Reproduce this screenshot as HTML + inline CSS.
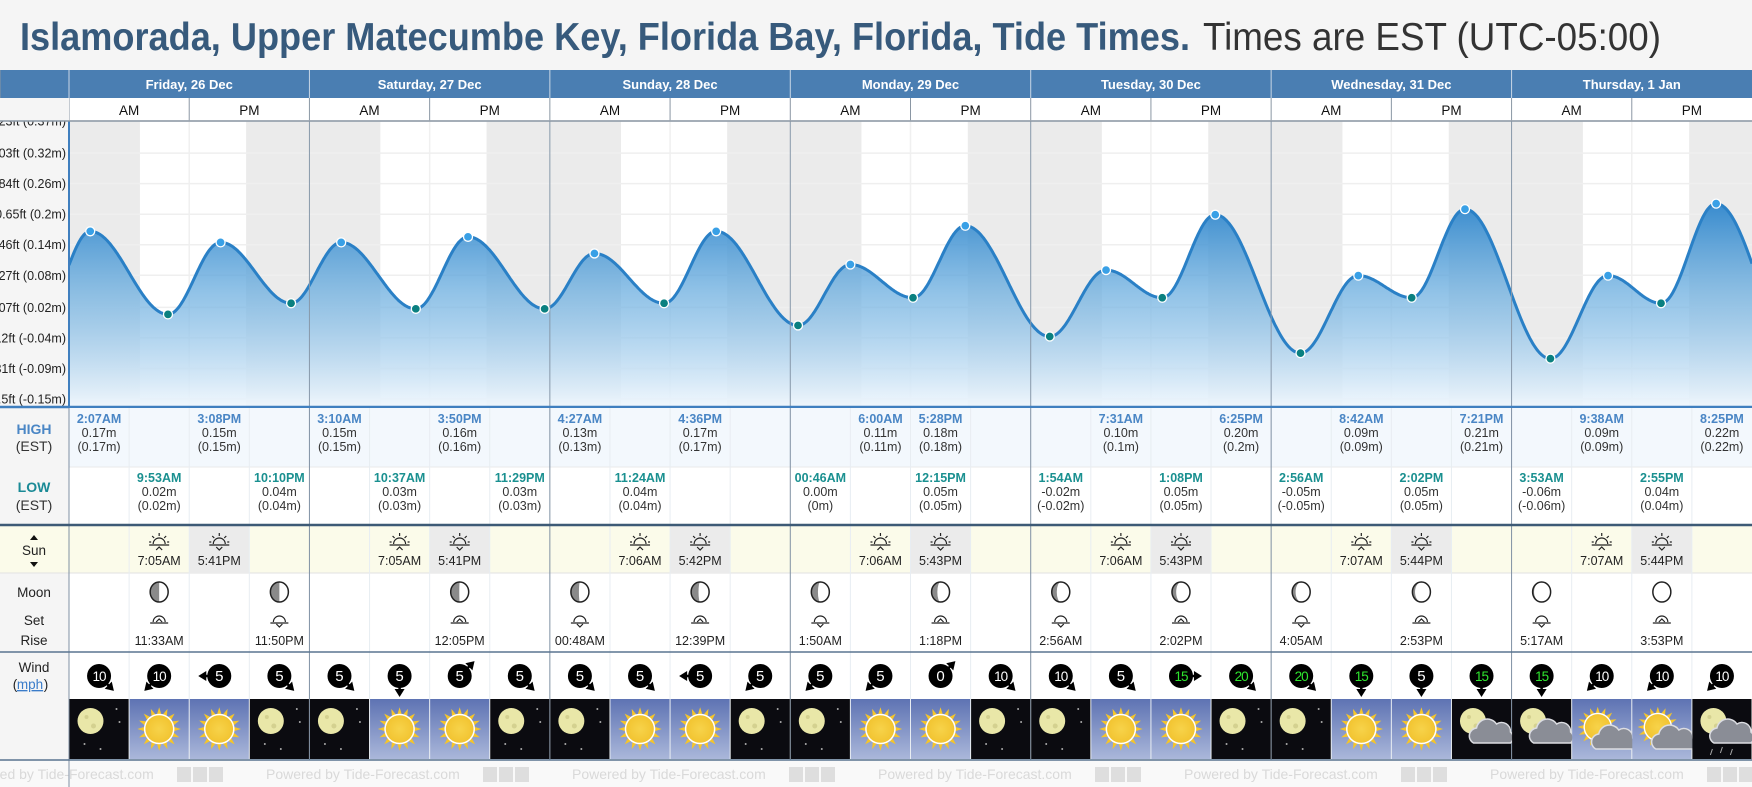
<!DOCTYPE html>
<html><head><meta charset="utf-8"><style>
html,body{margin:0;padding:0;background:#f5f5f5;}
svg{display:block;font-family:"Liberation Sans",sans-serif;}
</style></head><body>
<svg id="c" width="1752" height="787" viewBox="0 0 1752 787" xmlns="http://www.w3.org/2000/svg">
<defs>
<linearGradient id="tg" x1="0" y1="0" x2="0" y2="1"><stop offset="0" stop-color="#2f86cc" stop-opacity="0.95"/><stop offset="0.45" stop-color="#6fb0e0" stop-opacity="0.75"/><stop offset="1" stop-color="#eef6fd" stop-opacity="0.9"/></linearGradient>
<linearGradient id="dayg" x1="0" y1="0" x2="0" y2="1"><stop offset="0" stop-color="#5e73b3"/><stop offset="1" stop-color="#aab7da"/></linearGradient>
<radialGradient id="sung" cx="0.5" cy="0.5" r="0.5"><stop offset="0" stop-color="#f7d34a"/><stop offset="1" stop-color="#f2c431"/></radialGradient>
</defs>
<rect x="0" y="0" width="1752" height="787" fill="#f5f5f5"/>
<text x="20" y="50" font-size="39" font-weight="bold" fill="#375a7c" textLength="1170" lengthAdjust="spacingAndGlyphs">Islamorada, Upper Matecumbe Key, Florida Bay, Florida, Tide Times.</text>
<text x="1203" y="50" font-size="39" fill="#333" textLength="458" lengthAdjust="spacingAndGlyphs">Times are EST (UTC-05:00)</text>
<g id="g"></g>
</svg>
<script>
// ---- data ----
const days = ["Friday, 26 Dec","Saturday, 27 Dec","Sunday, 28 Dec","Monday, 29 Dec","Tuesday, 30 Dec","Wednesday, 31 Dec","Thursday, 1 Jan"];
const eventHours = [-2.5, 2.12,9.88,15.13,22.17, 27.17,34.62,39.83,47.48, 52.45,59.4,64.6, 72.77,78.0,84.25,89.47, 97.9,103.52,109.13,114.42, 122.93,128.7,134.03,139.35, 147.88,153.63,158.92,164.42, 172.8];
const eventHeights = [0.03, 0.17,0.02,0.15,0.04, 0.15,0.03,0.16,0.03, 0.13,0.04,0.17, 0.00,0.11,0.05,0.18, -0.02,0.10,0.05,0.20, -0.05,0.09,0.05,0.21, -0.06,0.09,0.04,0.22, -0.06];
const eventLabels = ["", "2:07AM","9:53AM","3:08PM","10:10PM", "3:10AM","10:37AM","3:50PM","11:29PM", "4:27AM","11:24AM","4:36PM", "00:46AM","6:00AM","12:15PM","5:28PM", "1:54AM","7:31AM","1:08PM","6:25PM", "2:56AM","8:42AM","2:02PM","7:21PM", "3:53AM","9:38AM","2:55PM","8:25PM", ""];
const eventParen = ["", "0.17m","0.02m","0.15m","0.04m", "0.15m","0.03m","0.16m","0.03m", "0.13m","0.04m","0.17m", "0m","0.11m","0.05m","0.18m", "-0.02m","0.1m","0.05m","0.2m", "-0.05m","0.09m","0.05m","0.21m", "-0.06m","0.09m","0.04m","0.22m", ""];
const yTickFt = [1.23,1.03,0.84,0.65,0.46,0.27,0.07,-0.12,-0.31,-0.5];
const yTickLabels = ["1.23ft (0.37m)","1.03ft (0.32m)","0.84ft (0.26m)","0.65ft (0.2m)","0.46ft (0.14m)","0.27ft (0.08m)","0.07ft (0.02m)","-0.12ft (-0.04m)","-0.31ft (-0.09m)","-0.5ft (-0.15m)"];
const sunrise = ["7:05AM","7:05AM","7:06AM","7:06AM","7:06AM","7:07AM","7:07AM"];
const sunset = ["5:41PM","5:41PM","5:42PM","5:43PM","5:43PM","5:44PM","5:44PM"];
const sunriseH = [7.08,7.08,7.1,7.1,7.1,7.12,7.12];
const sunsetH = [17.68,17.68,17.7,17.72,17.72,17.73,17.73];
const moonHours = [11.55,23.83, 36.08, 48.8,60.65, 73.83,85.3, 98.93,110.03, 124.08,134.88, 149.28,159.88];
const moonLabels = ["11:33AM","11:50PM","12:05PM","00:48AM","12:39PM","1:50AM","1:18PM","2:56AM","2:02PM","4:05AM","2:53PM","5:17AM","3:53PM"];
const moonIsRise = [1,0,1,0,1,0,1,0,1,0,1,0,1];
const moonPhase = [0.5,0.5,0.52,0.55,0.58,0.62,0.66,0.7,0.74,0.78,0.82,0.88,0.92];
const windSpeed = [10,10,5,5, 5,5,5,5, 5,5,5,5, 5,5,0,10, 10,5,15,20, 20,15,5,15, 15,10,10,10];
const windDir = [315,45,90,315, 315,0,225,315, 315,315,90,45, 45,45,225,315, 315,315,270,315, 315,0,0,0, 0,45,45,45];
const weather = ["n","d","d","n","n","d","d","n","n","d","d","n","n","d","d","n","n","d","d","n","n","d","d","nc","nc","dc","dc","r"];

// ---- layout ----
const NS="http://www.w3.org/2000/svg";
const G=document.getElementById('g');
const L=69, DW=(1752-L)/7, Q=DW/4;
const CT=121, CB=406;
function X(h){return L+h/24*DW;}
function Y(m){return 231.3+(0.17-m)*553.7;}
function YF(ft){return 399-(ft+0.5)*160.7;}
function el(tag,attrs,parent,text){const e=document.createElementNS(NS,tag);for(const k in attrs)e.setAttribute(k,attrs[k]);if(text!==undefined)e.textContent=text;(parent||G).appendChild(e);return e;}

let e;
e=el('rect',{x:0,y:70,width:1752,height:28,fill:'#4a7eb2'});


el('rect',{x:0,y:98,width:1752,height:23,fill:'#fff'});
el('rect',{x:0,y:98,width:L,height:23,fill:'#f5f5f5'});
el('line',{x1:0,y1:70,x2:0,y2:121,stroke:'#8a96a3'});
for(let d=0;d<7;d++){
  const x0=L+d*DW;
  e=el('text',{x:x0+DW/2,y:89,'text-anchor':'middle','font-size':13,'font-weight':'bold',fill:'#fff'},G,days[d]);
  
  
  el('line',{x1:x0,y1:70,x2:x0,y2:98,stroke:'#c9d7e6'});
  el('line',{x1:x0,y1:98,x2:x0,y2:121,stroke:'#8a96a3'});
  el('line',{x1:x0+DW/2,y1:98,x2:x0+DW/2,y2:121,stroke:'#8a96a3'});
  e=el('text',{x:x0+DW/4,y:115,'text-anchor':'middle','font-size':13.5,fill:'#111'},G,'AM');
  
  
  e=el('text',{x:x0+DW*3/4,y:115,'text-anchor':'middle','font-size':13.5,fill:'#111'},G,'PM');
  
  
}

el('rect',{x:L,y:CT,width:1752-L,height:CB-CT,fill:'#fff'});
for(let d=0;d<7;d++){
  const x0=L+d*DW;
  e=el('rect',{x:x0,y:CT,width:X(sunriseH[d])-X(0),height:CB-CT,fill:'#ebebeb'});
  
  
  e=el('rect',{x:X(d*24+sunsetH[d]),y:CT,width:X(24)-X(sunsetH[d]),height:CB-CT,fill:'#ebebeb'});
  
  
  el('line',{x1:X(d*24+12),y1:CT,x2:X(d*24+12),y2:CB,stroke:'#f0f0f0','stroke-width':1.5});
}
for(let i=0;i<yTickFt.length;i++){
  const y=YF(yTickFt[i]);
  el('line',{x1:L,y1:y,x2:1752,y2:y,stroke:'#efefef','stroke-width':1.5});
}
function tideAt(h){
  for(let i=0;i<eventHours.length-1;i++){
    const a=eventHours[i],b=eventHours[i+1];
    if(h>=a&&h<=b){const t=(h-a)/(b-a);const ha=eventHeights[i],hb=eventHeights[i+1];return ha+(hb-ha)*(1-Math.cos(Math.PI*t))/2;}
  }
  return eventHeights[eventHeights.length-1];
}
let pts=[];
for(let h=0;h<=168;h+=0.1){pts.push(X(h).toFixed(1)+','+Y(tideAt(h)).toFixed(1));}
e=el('path',{d:'M'+X(0)+','+CB+' L'+pts.join(' L')+' L'+X(168)+','+CB+' Z',fill:'url(#tg)'});


e=el('path',{d:'M'+pts.join(' L'),fill:'none',stroke:'#2a80c6','stroke-width':3});


for(let d=1;d<7;d++){el('line',{x1:L+d*DW,y1:CT,x2:L+d*DW,y2:CB,stroke:'#8798aa','stroke-width':1});}
el('line',{x1:L,y1:CT,x2:L,y2:CB,stroke:'#3f7fbf','stroke-width':2});
for(let i=0;i<eventHours.length;i++){
  if(eventHours[i]<0||eventHours[i]>168)continue;
  const hi=(i>0&&eventHeights[i]>eventHeights[i-1]);
  e=el('circle',{cx:X(eventHours[i]),cy:Y(eventHeights[i]),r:4.5,fill:hi?'#39a0e6':'#0a8080',stroke:'#fff','stroke-width':1.3});
  
  
}
el('rect',{x:0,y:CT,width:L-1,height:CB-CT,fill:'#f5f5f5'});
for(let i=0;i<yTickFt.length;i++){
  e=el('text',{x:L-3,y:YF(yTickFt[i])+4.5,'text-anchor':'end','font-size':12.5,fill:'#222'},G,yTickLabels[i]);
  
  
}
el('rect',{x:0,y:CT-14,width:L,height:14,fill:'#f5f5f5'});
el('rect',{x:0,y:98,width:L,height:23,fill:'#f5f5f5'});
el('line',{x1:0,y1:121,x2:1752,y2:121,stroke:'#8a96a3','stroke-width':1.5});
el('line',{x1:0,y1:CB+1,x2:1752,y2:CB+1,stroke:'#3f7fbf','stroke-width':2.5});

el('rect',{x:L,y:408,width:1752-L,height:59,fill:'#f3f8fd'});
el('rect',{x:L,y:467,width:1752-L,height:58,fill:'#fff'});
el('rect',{x:0,y:526,width:1752,height:47,fill:'#fbfbea'});
el('rect',{x:L,y:573,width:1752-L,height:79,fill:'#fff'});
el('rect',{x:L,y:652,width:1752-L,height:47,fill:'#fff'});
el('line',{x1:L,y1:467,x2:1752,y2:467,stroke:'#eaeaea'});
el('line',{x1:0,y1:573,x2:1752,y2:573,stroke:'#e2e2e2'});
for(let d=0;d<7;d++){
  const x0=L+d*DW;
  el('rect',{x:X(d*24+12),y:526,width:Q,height:47,fill:'#ebebeb'});
  for(let k=1;k<4;k++){el('line',{x1:x0+k*Q,y1:408,x2:x0+k*Q,y2:760,stroke:'#e8edf2'});}
  el('line',{x1:x0,y1:408,x2:x0,y2:760,stroke:'#7f90a3'});
}
el('line',{x1:L,y1:408,x2:L,y2:787,stroke:'#7f90a3'});
el('line',{x1:0,y1:525,x2:1752,y2:525,stroke:'#3d5a76','stroke-width':2.5});
el('line',{x1:0,y1:652,x2:1752,y2:652,stroke:'#5a7590','stroke-width':1.5});
el('line',{x1:0,y1:760,x2:1752,y2:760,stroke:'#5a7590','stroke-width':1.5});

function lbl(t,x,y,size,col,bold,name){e=el('text',{x:x,y:y,'text-anchor':'middle','font-size':size,fill:col,'font-weight':bold?'bold':'normal'},G,t);return e;}
lbl('HIGH',34,434,14,'#4a86c5',true,'high-row-label');
lbl('(EST)',34,451,14,'#333',false,'high-row-tz');
lbl('LOW',34,492,14,'#1a8a96',true,'low-row-label');
lbl('(EST)',34,510,14,'#333',false,'low-row-tz');
lbl('Sun',34,555,13.5,'#222',false,'sun-row-label');
el('path',{d:'M30,540 L34,535 L38,540 Z M30,562 L34,567 L38,562 Z',fill:'#111'});
lbl('Moon',34,597,13.5,'#222',false,'moon-row-label');
lbl('Set',34,625,13.5,'#222',false,'moonset-label');
lbl('Rise',34,645,13.5,'#222',false,'moonrise-label');
lbl('Wind',34,672,13.5,'#222',false,'wind-row-label');
lbl('(',15,689,13.5,'#222',false,'paren');
e=el('text',{x:30,y:689,'text-anchor':'middle','font-size':13.5,fill:'#3a7cc9','text-decoration':'underline'},G,'mph');


lbl(')',46,689,13.5,'#222',false,'paren');

for(let i=0;i<eventHours.length;i++){
  const h=eventHours[i]; if(h<0||h>168)continue;
  const hi=(i>0&&eventHeights[i]>eventHeights[i-1]);
  const qi=Math.floor(h/6); const cx=L+qi*Q+Q/2; const y0=hi?423:482;
  e=el('text',{x:cx,y:y0,'text-anchor':'middle','font-size':12.5,'font-weight':'bold',fill:hi?'#4a86c5':'#1a9090'},G,eventLabels[i]);
  
  
  e=el('text',{x:cx,y:y0+14,'text-anchor':'middle','font-size':12.5,fill:'#333'},G,eventHeights[i].toFixed(2)+'m');
  
  
  e=el('text',{x:cx,y:y0+28,'text-anchor':'middle','font-size':12.5,fill:'#333'},G,'('+eventParen[i]+')');
  
  
}
function sunIcon(cx,cy,down){
  const g=el('g',{stroke:'#222','stroke-width':1.2,fill:'none'});
  el('path',{d:`M${cx-6},${cy+3} A6,6 0 0 1 ${cx+6},${cy+3}`},g);
  el('line',{x1:cx-10,y1:cy+4,x2:cx+10,y2:cy+4},g);
  el('path',{d:`M${cx},${cy-8} v3 M${cx-7},${cy-5} l2,2 M${cx+7},${cy-5} l-2,2 M${cx-10},${cy+1} h2 M${cx+10},${cy+1} h-2`},g);
  el('path',{d:down?`M${cx-3},${cy+6} l3,3 l3,-3`:`M${cx-3},${cy+9} l3,-3 l3,3`},g);
  return g;
}
for(let d=0;d<7;d++){
  const x0=L+d*DW;
  let cx=x0+Q*1.5; e=sunIcon(cx,541,false);
  
  
  e=el('text',{x:cx,y:565,'text-anchor':'middle','font-size':12.5,fill:'#222'},G,sunrise[d]);
  
  
  cx=x0+Q*2.5; e=sunIcon(cx,541,true);
  
  
  e=el('text',{x:cx,y:565,'text-anchor':'middle','font-size':12.5,fill:'#222'},G,sunset[d]);
  
  
}
for(let i=0;i<moonHours.length;i++){
  const qi=Math.floor(moonHours[i]/6); const cx=L+qi*Q+Q/2;
  const g=el('g',{});
  
  
  el('ellipse',{cx:cx,cy:592,rx:9,ry:10,fill:'#fff'},g);
  const rx=Math.max(0.01,10*(2*moonPhase[i]-1));
  el('path',{d:`M${cx},582 A9,10 0 0 0 ${cx},602 A${rx.toFixed(2)},10 0 0 1 ${cx},582 Z`,fill:'#8a8a8a'},g);
  el('ellipse',{cx:cx,cy:592,rx:9,ry:10,fill:'none',stroke:'#222','stroke-width':1.5},g);
  const rg=el('g',{stroke:'#222','stroke-width':1.2,fill:'none'});
  
  
  el('path',{d:`M${cx-6},622 A6,6 0 0 1 ${cx+6},622`},rg);
  el('line',{x1:cx-9,y1:623,x2:cx+9,y2:623},rg);
  el('path',{d:moonIsRise[i]?`M${cx-3},622 l3,-3 l3,3`:`M${cx-3},624 l3,3 l3,-3`},rg);
  e=el('text',{x:cx,y:645,'text-anchor':'middle','font-size':12.5,fill:'#222'},G,moonLabels[i]);
  
  
}
for(let i=0;i<windSpeed.length;i++){
  const cx=L+i*Q+Q/2, cy=676;
  const g=el('g',{});
  
  
  const a=windDir[i]*Math.PI/180; const dx=-Math.sin(a), dy=Math.cos(a);
  const tx=cx+dx*18, ty=cy+dy*18;
  el('line',{x1:cx,y1:cy,x2:tx,y2:ty,stroke:'#000','stroke-width':2.5},g);
  const px=-dy, py=dx;
  el('path',{d:`M${tx+dx*3},${ty+dy*3} L${tx-dx*5+px*5},${ty-dy*5+py*5} L${tx-dx*5-px*5},${ty-dy*5-py*5} Z`,fill:'#000'},g);
  el('circle',{cx:cx,cy:cy,r:12,fill:'#000'},g);
  const sp=windSpeed[i];
  el('text',{x:cx,y:cy+5,'text-anchor':'middle','font-size':sp>=10?13.5:15,fill:sp>=15?'#2ee62e':'#fff','letter-spacing':sp>=10?-1:0},g,String(sp));
}
function sunShape(g,cx,cy,r){
  let d='';for(let k=0;k<16;k++){const a1=k*Math.PI/8, a2=a1+Math.PI/16, a3=a1-Math.PI/16;
    d+=`M${cx+Math.cos(a3)*r*0.9},${cy+Math.sin(a3)*r*0.9} L${cx+Math.cos(a1)*r*1.45},${cy+Math.sin(a1)*r*1.45} L${cx+Math.cos(a2)*r*0.9},${cy+Math.sin(a2)*r*0.9} Z `;}
  el('path',{d:d,fill:'#f5c52a'},g);
  el('circle',{cx:cx,cy:cy,r:r*1.02,fill:'#fff'},g);
  el('circle',{cx:cx,cy:cy,r:r*0.92,fill:'url(#sung)'},g);
}
function cloud(g,cx,cy,s){
  el('path',{d:`M${cx-18*s},${cy+10*s} a8,8 0 0 1 3,-15 a11,11 0 0 1 20,-4 a9,9 0 0 1 14,8 a7,7 0 0 1 0,11 Z`,fill:'#8a8d96',stroke:'#dcdde2','stroke-width':1.5},g);
}
for(let i=0;i<weather.length;i++){
  const x0=L+i*Q+0.5, w=Q-1, y0=699, h=60, cx=x0+w/2;
  const t=weather[i]; const night=(t[0]==='n'||t==='r');
  const g=el('g',{});
  
  
  el('rect',{x:x0,y:y0,width:w,height:h,fill:night?'#0b0b10':'url(#dayg)'},g);
  if(night){
    el('circle',{cx:x0+21,cy:y0+22,r:13,fill:'#e9e7a8'},g);
    el('circle',{cx:x0+17,cy:y0+18,r:2,fill:'#d4d190'},g);
    el('circle',{cx:x0+24,cy:y0+27,r:2.5,fill:'#d4d190'},g);
    if(t==='n'){el('circle',{cx:x0+47,cy:y0+10,r:1,fill:'#aaa'},g);el('circle',{cx:x0+50,cy:y0+23,r:1,fill:'#aaa'},g);el('circle',{cx:x0+15,cy:y0+45,r:1,fill:'#aaa'},g);el('circle',{cx:x0+31,cy:y0+50,r:1,fill:'#aaa'},g);}
    else {cloud(g,cx+10,y0+34,1);}
    if(t==='r'){el('path',{d:`M${x0+20},${y0+50} l-2,6 M${x0+30},${y0+48} l-2,6 M${x0+40},${y0+50} l-2,6`,stroke:'#aaa','stroke-width':1},g);}
  } else {
    if(t==='d'){sunShape(g,cx,y0+30,15);}
    else {sunShape(g,cx-4,y0+28,14);cloud(g,cx+12,y0+40,1);}
  }
}
el('rect',{x:0,y:761,width:1752,height:26,fill:'#f9f9f9'});
for(let k=0;k<7;k++){
  const fx=-40+k*306;
  e=el('text',{x:fx,y:779,'font-size':14,fill:'#d9d9d9'},G,'Powered by Tide-Forecast.com');
  
  
  el('rect',{x:fx+217,y:767,width:14,height:15,fill:'#dedede'});
  el('rect',{x:fx+233,y:767,width:14,height:15,fill:'#dedede'});
  el('rect',{x:fx+249,y:767,width:14,height:15,fill:'#dedede'});
}
el('line',{x1:L,y1:761,x2:L,y2:787,stroke:'#7f90a3'});
</script>
</body></html>
